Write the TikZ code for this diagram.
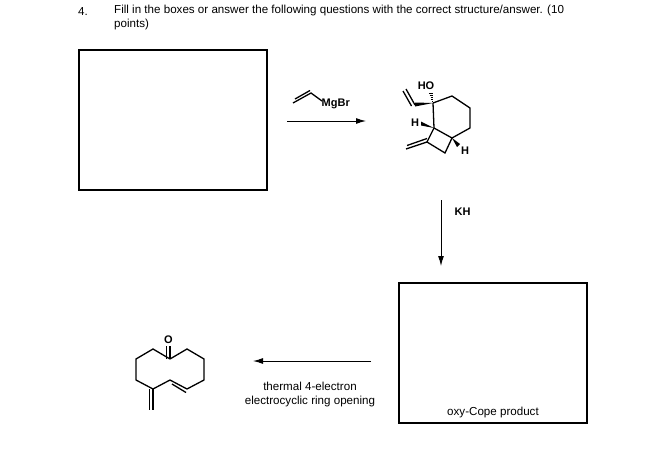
\documentclass[tikz,border=0pt]{standalone}
\usepackage{fontspec}
\setmainfont{Liberation Sans}
\usetikzlibrary{arrows.meta,calc}
\begin{document}
\begin{tikzpicture}[x=1pt,y=-1pt,
  bd/.style={line width=1.3pt},
  box/.style={draw,line width=1.1pt},
  arr/.style={line width=1pt,-{Latex[length=10pt,width=6pt]}},
  lbl/.style={font=\fontsize{11.6}{14}\selectfont,inner sep=0pt},
  atom/.style={font=\fontsize{11}{12}\selectfont\bfseries,inner sep=0.5pt}]
\useasboundingbox (0,0) rectangle (649,474);
\node[lbl,anchor=west] (num) at (78,12) {4.};
\node[lbl,anchor=north west,align=left] (q) at (114,5) {Fill in the boxes or answer the following questions with the correct structure/answer. (10\\points)};
\draw[box] (79,50) rectangle (267,190);
\draw[box] (399,283) rectangle (587,423);
% reagent
\draw[bd] (293,103)--(311,93)--(322,101);
\draw[bd] (295,99)--(310,90.5);
\node[atom,anchor=west] (mg) at (321,104) {MgBr};
\coordinate (a1) at (287,121); \coordinate (a2) at (366,121);
\draw[arr] (a1)--(a2);
% bicyclic
\coordinate (c1) at (433,103); \coordinate (c2) at (452,96); \coordinate (c3) at (470,108);
\coordinate (c4) at (470,128); \coordinate (c5) at (452,138); \coordinate (c6) at (434,128);
\coordinate (c7) at (445,153); \coordinate (c8) at (427,142);
\draw[bd] (c1)--(c2)--(c3)--(c4)--(c5)--(c6)--(c1);
\draw[bd] (c6)--(c8)--(c7)--(c5);
\draw[bd] (c8)--(406,149);
\draw[bd] (c8)++(0,-3.5)--(407,145.5);
\fill (c1)--(415,102.5)--(415,106.5)--cycle;
\draw[bd] (415,105)--(406,89);
\draw[bd] (411.5,106)--(403,91);
\foreach \t in {0.15,0.35,0.55,0.75,0.95}
  \draw[line width=0.8pt] ($(c1)!\t!(431,93)+(-\t*2.4,0)$)--($(c1)!\t!(431,93)+(\t*2.4,0)$);
\node[atom] (ho) at (426,86) {HO};
\fill (c6)--(421,121.5)--(421,125.5)--cycle;
\node[atom] (h1) at (415,123) {H};
\fill (c5)--(460,144)--(457,147)--cycle;
\node[atom] (h2) at (465,151) {H};
% KH
\coordinate (k1) at (441,200); \coordinate (k2) at (441,266);
\draw[arr] (k1)--(k2);
\node[atom,anchor=west] (kh) at (454,212) {KH};
% left arrow
\coordinate (l1) at (371,361); \coordinate (l2) at (253,361);
\draw[arr] (l1)--(l2);
\node[lbl,align=center] (th) at (310,394) {thermal 4-electron\\electrocyclic ring opening};
\node[lbl] (oc) at (493,412) {oxy-Cope product};
% product
\draw[bd] (170,359)--(153,349)--(136,359)--(136,380)--(153,389)--(170,380)--(187,389)--(204,380)--(204,359)--(187,349)--(170,359);
\draw[bd] (172,384)--(186,392.5);
\draw[bd] (170,359)--(170,346);
\draw[bd] (166.5,359)--(166.5,346);
\node[atom] (o) at (168.3,340) {O};
\draw[bd] (153,389)--(153,410);
\draw[bd] (149.5,389)--(149.5,410);
\end{tikzpicture}
\end{document}
